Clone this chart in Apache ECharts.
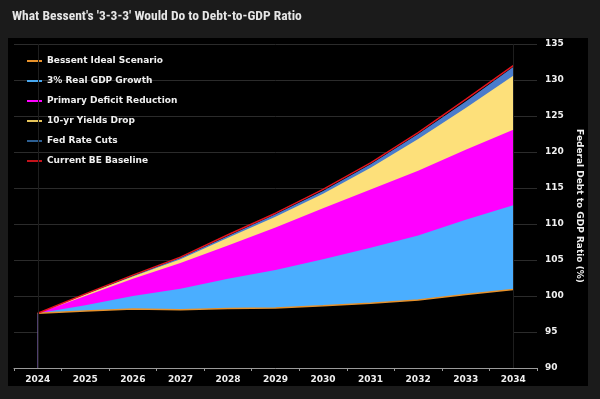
<!DOCTYPE html>
<html><head><meta charset="utf-8">
<script src="https://cdn.jsdelivr.net/npm/echarts@6/dist/echarts.min.js"></script>
<style>html,body{margin:0;padding:0;background:#1b1b1b;}#c{width:600px;height:399px;}</style>
</head><body><div id="c"></div>
<script>
const years = ['2024','2025','2026','2027','2028','2029','2030','2031','2032','2033','2034'];
const bessentIdeal = [97.6, 97.9, 98.2, 98.1, 98.25, 98.35, 98.65, 99.0, 99.45, 100.2, 100.9];
const realGdpGrowth = [97.6, 98.7, 100.0, 101.0, 102.4, 103.6, 105.1, 106.7, 108.4, 110.6, 112.6];
const primaryDeficit = [97.6, 100.0, 102.4, 104.6, 107.0, 109.5, 112.2, 114.8, 117.4, 120.3, 123.1];
const yieldsDrop = [97.6, 100.2, 102.7, 105.1, 108.1, 111.0, 114.2, 117.8, 121.8, 126.1, 130.6];
const fedRateCuts = [97.6, 100.25, 102.8, 105.3, 108.35, 111.35, 114.6, 118.3, 122.5, 127.0, 131.8];
const currentBaseline = [97.6, 100.3, 102.9, 105.4, 108.5, 111.5, 114.8, 118.5, 122.7, 127.3, 132.0];
const yTicks = {min: 90, max: 135, interval: 5};

const names = ['Bessent Ideal Scenario','3% Real GDP Growth','Primary Deficit Reduction','10-yr Yields Drop','Fed Rate Cuts','Current BE Baseline'];
const font = '"DejaVu Sans", Verdana, sans-serif';

function area(name, data, legendColor, fillColor, extra) {
  return Object.assign({
    name, type: 'line', data, symbol: 'none',
    itemStyle: {color: legendColor},
    lineStyle: {width: 0, color: fillColor},
    areaStyle: {color: fillColor, opacity: 1, origin: 'start'},
    emphasis: {disabled: true}
  }, extra || {});
}

const chart = echarts.init(document.getElementById('c'));
chart.setOption({
  backgroundColor: '#1b1b1b',
  animation: false,
  graphic: [{type: 'rect', shape: {x: 8, y: 38, width: 580, height: 348}, style: {fill: '#000'}, z: -10, silent: true}],
  title: {text: "What Bessent's '3-3-3' Would Do to Debt-to-GDP Ratio", left: 7, top: 5,
    textStyle: {color: '#e6e6e6', fontSize: 13.5, fontWeight: 'bold', fontFamily: '"Liberation Sans Narrow", "Roboto Condensed", "Liberation Sans", sans-serif'}},
  legend: {
    data: names, orient: 'vertical', left: 22, top: 50, itemWidth: 15, itemHeight: 2, icon: 'rect',
    itemGap: 8, textStyle: {color: '#f0f0f0', fontSize: 9, fontWeight: 'bold', fontFamily: font, lineHeight: 12}
  },
  grid: {left: 14, right: 63, top: 44, bottom: 31},
  xAxis: {
    type: 'category', data: years, boundaryGap: true,
    axisLine: {show: true, lineStyle: {color: '#9a9a9a', width: 1}},
    axisTick: {show: true, length: 3, lineStyle: {color: '#9a9a9a'}},
    axisLabel: {color: '#f0f0f0', fontSize: 9, fontWeight: 'bold', fontFamily: font, margin: 7},
    splitLine: {show: false}
  },
  yAxis: {
    type: 'value', position: 'right', min: yTicks.min, max: yTicks.max, interval: yTicks.interval,
    name: 'Federal Debt to GDP Ratio (%)', nameLocation: 'middle', nameRotate: -90, nameGap: 36,
    nameTextStyle: {color: '#f0f0f0', fontSize: 9, fontWeight: 'bold', fontFamily: font},
    axisLine: {show: false}, axisTick: {show: false},
    axisLabel: {color: '#f0f0f0', fontSize: 9, fontWeight: 'bold', fontFamily: font, margin: 8},
    splitLine: {lineStyle: {color: '#2b2b2b', width: 1}}
  },
  series: [
    area(names[4], fedRateCuts, '#2d5f92', '#4a7ccc', {
      markLine: {silent: true, symbol: 'none', label: {show: false},
        lineStyle: {color: '#1e1e1e', width: 1, type: 'solid'},
        data: [{xAxis: years[0]}, {xAxis: years[years.length - 1]}]}
    }),
    area(names[3], yieldsDrop, '#e6c45a', '#fde07a'),
    area(names[2], primaryDeficit, '#ff00ff', '#ff00ff'),
    area(names[1], realGdpGrowth, '#48a8f0', '#4aaeff'),
    {name: names[0], type: 'line', data: bessentIdeal, symbol: 'none',
      itemStyle: {color: '#e8922b'}, lineStyle: {width: 1.5, color: '#e8922b'},
      areaStyle: {color: '#000', opacity: 1, origin: 'start'}, emphasis: {disabled: true}},
    {name: names[5], type: 'line', data: currentBaseline, symbol: 'none',
      itemStyle: {color: '#c4121a'}, lineStyle: {width: 1.5, color: '#e3141c'}, emphasis: {disabled: true}}
  ]
});
</script></body></html>
